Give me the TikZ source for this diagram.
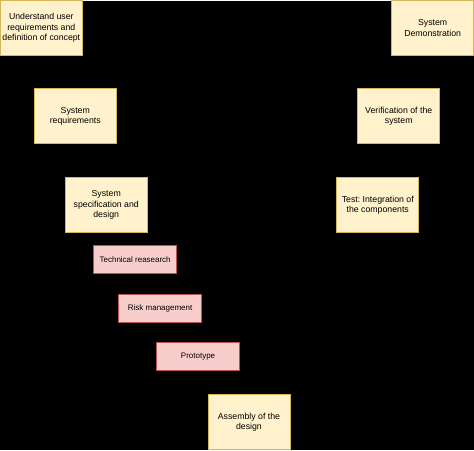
\documentclass[tikz,border=0pt]{standalone}
\usepackage{fontspec}
\setmainfont{Liberation Sans}
\frenchspacing
\definecolor{stepfill}{HTML}{FFF2CC}
\definecolor{stepline}{HTML}{D6B656}
\definecolor{taskfill}{HTML}{F8CECC}
\definecolor{taskline}{HTML}{B85450}
\begin{document}
\begin{tikzpicture}[x=1pt,y=-1pt,
	phase/.style={draw=stepline,fill=stepfill,line width=.8pt,minimum width=82pt,minimum height=55pt,inner sep=0pt,align=center,font=\fontsize{8.75}{10.5}\selectfont},
	task/.style={draw=taskline,fill=taskfill,line width=.8pt,minimum width=83pt,minimum height=28pt,inner sep=0pt,align=center,font=\fontsize{8}{10}\selectfont}]
	\fill[black] (0,0) rectangle (474,450);
	%LEFT
	\node[phase] (user) at (41,27) {Understand user\\requirements and\\definition of concept};
	\node[phase] (sysreq) at (75,115.5) {System\\requirements};
	\node[phase] (spec) at (106,204.5) {System\\specification and\\design};
	%TASKS
	\node[task] (research) at (135,259) {Technical reasearch};
	\node[task] (risk) at (160,308) {Risk management};
	\node[task] (proto) at (198,356.5) {Prototype};
	%BOTTOM
	\node[phase] (assembly) at (249,422) {Assembly of the\\design};
	%RIGHT
	\node[phase] (test) at (378,204.5) {Test: Integration of\\the components};
	\node[phase] (verif) at (399,115.5) {Verification of the\\system};
	\node[phase] (demo) at (433,27) {System\\Demonstration};
\end{tikzpicture}
\end{document}
